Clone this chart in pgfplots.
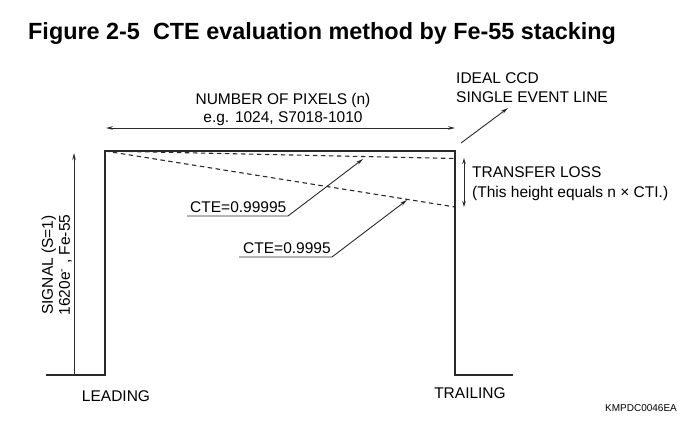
\documentclass[border=0pt]{standalone}
\usepackage{fontspec}
\setmainfont{Liberation Sans}
\usepackage{pgfplots}
\pgfplotsset{compat=1.18}
\usetikzlibrary{arrows.meta}

\definecolor{ink}{HTML}{2A2A2A}

\newcommand{\lbl}{\fontsize{15.5bp}{17bp}\selectfont}

\begin{document}
\begin{tikzpicture}[every node/.style={inner sep=0pt}]
\begin{axis}[
    x=1bp, y=1bp,
    xmin=0, xmax=700, ymin=0, ymax=431,
    hide axis,
    clip=false,
    every axis plot/.append style={ink, line width=1.1bp, no markers},
  ]
  % ideal single event line
  \addplot[ink, line width=1.2bp] coordinates {(46,56) (105,56) (105,280) (455,280) (455,56) (513,56)};
  % CTE = 0.99995
  \addplot[ink, dash pattern=on 4.5bp off 3.5bp] coordinates {(105,280) (455,272.5)};
  % CTE = 0.9995
  \addplot[ink, dash pattern=on 4.5bp off 3.5bp] coordinates {(105,280) (455,224)};

  % arrows
  \addplot[ink, -{Stealth[length=7bp,width=3.5bp]}, line width=0.9bp] coordinates {(74,56) (74,278)};
  \addplot[ink, {Stealth[length=7bp,width=3.5bp]}-{Stealth[length=7bp,width=3.5bp]}, line width=0.9bp] coordinates {(106,303) (455,303)};
  \addplot[ink, {Stealth[length=6bp,width=3.5bp]}-{Stealth[length=6bp,width=3.5bp]}, line width=0.9bp] coordinates {(464,273) (464,224)};
  \addplot[ink, -{Stealth[length=7bp,width=3.5bp]}, line width=0.9bp] coordinates {(461,288) (508,323)};
  \addplot[ink, -{Stealth[length=7bp,width=3.5bp]}, line width=0.9bp] coordinates {(187,215) (288,215) (363,272)};
  \addplot[ink, -{Stealth[length=7bp,width=3.5bp]}, line width=0.9bp] coordinates {(239,174) (332,174) (407,231)};

  % texts
  \node[anchor=base west, font=\fontsize{23.4bp}{26bp}\selectfont\bfseries] at (axis cs:28,391) {Figure 2-5\ \ CTE evaluation method by Fe-55 stacking};
  \node[anchor=base, font=\lbl] at (axis cs:283,327) {NUMBER OF PIXELS (n)};
  \node[anchor=base, font=\lbl] at (axis cs:283,309) {e.g. 1024, S7018-1010};
  \node[anchor=base west, font=\lbl] at (axis cs:456,348) {IDEAL CCD};
  \node[anchor=base west, font=\lbl] at (axis cs:456,329) {SINGLE EVENT LINE};
  \node[anchor=base west, font=\lbl] at (axis cs:472,254) {TRANSFER LOSS};
  \node[anchor=base west, font=\lbl] at (axis cs:472,234) {(This height equals n × CTI.)};
  \node[anchor=base west, font=\lbl] at (axis cs:190,219) {CTE=0.99995};
  \node[anchor=base west, font=\lbl] at (axis cs:243,178) {CTE=0.9995};
  \node[anchor=base, rotate=90, font=\lbl] at (axis cs:53,166) {SIGNAL (S=1)};
  \node[anchor=base, rotate=90, font=\lbl] at (axis cs:70,166) {1620e\textsuperscript{-} , Fe-55};
  \node[font=\lbl] at (axis cs:116,35) {LEADING};
  \node[font=\lbl] at (axis cs:470,37.5) {TRAILING};
  \node[font=\fontsize{10bp}{12bp}\selectfont] at (axis cs:641,23) {KMPDC0046EA};
\end{axis}
\pgfresetboundingbox
\path (0,0) rectangle (700bp,431bp);
\end{tikzpicture}
\end{document}
